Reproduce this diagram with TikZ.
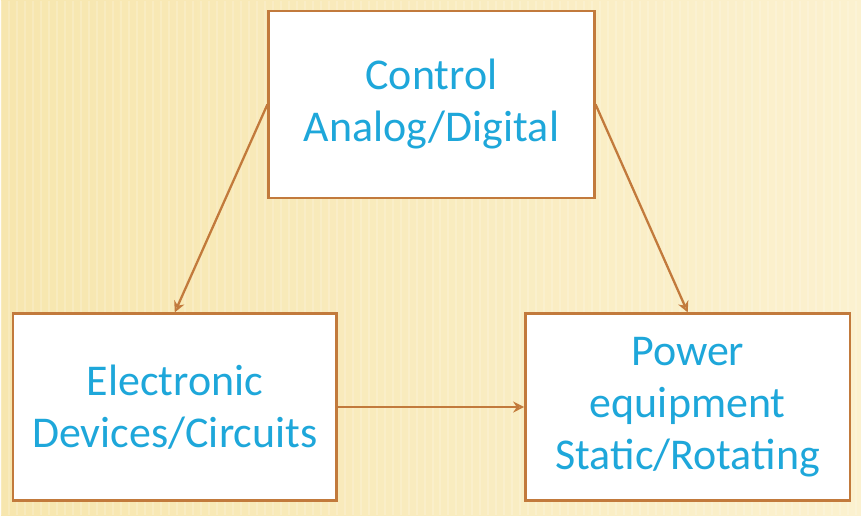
\documentclass[tikz,border=0pt]{standalone}
\usepackage{fontspec}
\setmainfont{Carlito}
\usetikzlibrary{arrows.meta}
\definecolor{bgy}{HTML}{F7E6AE}
\definecolor{bgl}{HTML}{FBF1CF}
\definecolor{edge}{HTML}{C27A3C}
\definecolor{txt}{HTML}{1EA7DA}
\tikzset{
  box/.style={draw=edge, line width=2.5pt, fill=white, minimum height=187pt, align=center, text=txt, font=\fontsize{44}{52}\selectfont, inner sep=0pt},
  conn/.style={draw=edge, line width=2.3pt, -{Stealth[open,length=11pt,width=11pt]}}
}
\begin{document}
\begin{tikzpicture}[x=1pt,y=1pt]
\shade[left color=bgy, right color=bgl] (0,0) rectangle (861,515);
\foreach \i in {0,8,...,856} \draw[white,opacity=0.18,line width=2pt] (\i,0) -- (\i,515);
\useasboundingbox (0,0) rectangle (861,515);
\node[box, minimum width=326pt] (ctrl) at (431,411.5) {Control\\Analog/Digital};
\node[box, minimum width=324pt] (elec) at (174,108.5) {Electronic\\Devices/Circuits};
\node[box, minimum width=325pt] (pow) at (687.5,108.5) {Power\\equipment\\Static/Rotating};
\draw[conn] (ctrl.west) -- (elec.north);
\draw[conn] (ctrl.east) -- (pow.north);
\draw[conn] (elec.east) -- (pow.west);
\end{tikzpicture}
\end{document}
